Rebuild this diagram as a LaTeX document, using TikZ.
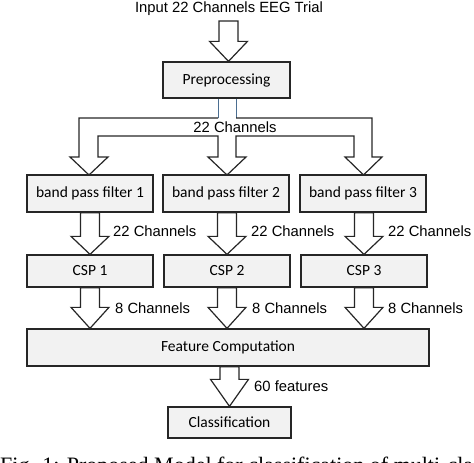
\documentclass[tikz,border=0pt]{standalone}
\usepackage{fontspec}
\setmainfont{Carlito}
\newfontfamily\arialf{Liberation Sans}
\newfontfamily\timesf{Liberation Serif}
\usetikzlibrary{calc}
\definecolor{feedblue}{RGB}{75,110,145}
\tikzset{
  boxst/.style={draw=black!85, fill=black!5, line width=1.3pt, inner sep=0pt,
    font=\fontsize{15.5}{18}\selectfont},
  lbl/.style={font=\arialf\fontsize{14.8}{18}\selectfont, inner sep=0pt, anchor=west},
  arrowline/.style={draw=black!85, line width=1.2pt, fill=white, line join=miter},
  feedline/.style={draw=black!85, line width=1.2pt, line join=miter},
  blueline/.style={draw=feedblue, line width=0.9pt}
}
\newcommand\hollowarrow[3]{%
  \path[arrowline] let \p1=(#1), \p2=(#2) in
    (\x2-9.5pt,\y1) -- (\x2-9.5pt,\y2+#3) -- (\x2-19pt,\y2+#3) -- (\x2,\y2)
    -- (\x2+19pt,\y2+#3) -- (\x2+9.5pt,\y2+#3) -- (\x2+9.5pt,\y1) -- cycle;
}
\begin{document}
\begin{tikzpicture}[x=1pt,y=-1pt]
\useasboundingbox (0,0) rectangle (474,463);
\clip (0,0) rectangle (474,463);

% title
\node[font=\arialf\fontsize{14.8}{18}\selectfont, inner sep=0pt, anchor=base] (title) at (229,12.5) {Input 22 Channels EEG Trial};
\coordinate (in) at (228.5,21);

% boxes
\node[boxst, minimum width=127pt, minimum height=36pt] (pre) at (226.5,80) {Preprocessing};
\node[boxst, minimum width=126pt, minimum height=37pt] (bp1) at (90,193.5) {band pass filter 1};
\node[boxst, minimum width=126pt, minimum height=37pt] (bp2) at (226,193.5) {band pass filter 2};
\node[boxst, minimum width=126pt, minimum height=37pt] (bp3) at (363,193.5) {band pass filter 3};
\node[boxst, minimum width=126pt, minimum height=32pt] (csp1) at (90,271) {CSP 1};
\node[boxst, minimum width=126pt, minimum height=32pt] (csp2) at (227,271) {CSP 2};
\node[boxst, minimum width=126pt, minimum height=32pt] (csp3) at (364,271) {CSP 3};
\node[boxst, minimum width=402pt, minimum height=37pt] (feat) at (228,347.5) {Feature Computation};
\node[boxst, minimum width=123pt, minimum height=31pt] (cls) at (229.5,422.5) {Classification};

% top arrow
\hollowarrow{in}{in |- pre.north}{20pt}

% branching arrow from preprocessing
\coordinate (bL) at (218,118);
\coordinate (bR) at (236,118);
\draw[blueline] (bL |- pre.south) -- (bL);
\draw[blueline] (bR |- pre.south) -- (bR);
\draw[feedline] (bL) -- (79,118) -- (79,157) -- (70,157) -- (89,175) -- (108,157) -- (98,157)
  -- (98,136) -- (218,136) -- (218,157) -- (208,157) -- (227,175) -- (246,157) -- (236,157)
  -- (236,136) -- (354,136) -- (354,157) -- (345,157) -- (363.5,175) -- (382,157) -- (372,157)
  -- (372,118) -- (bR);
\node[font=\arialf\fontsize{14.8}{18}\selectfont, inner sep=0pt] (lb0) at (235,127.5) {22 Channels};

% band pass -> CSP
\hollowarrow{csp1.north |- bp1.south}{csp1.north}{18pt}
\hollowarrow{csp2.north |- bp2.south}{csp2.north}{18pt}
\hollowarrow{csp3.north |- bp3.south}{csp3.north}{18pt}
\node[lbl] (lb1) at (113,231.5) {22 Channels};
\node[lbl] (lb2) at (251,231.5) {22 Channels};
\node[lbl] (lb3) at (388,231.5) {22 Channels};

% CSP -> feature
\hollowarrow{csp1.south}{csp1.south |- feat.north}{21pt}
\hollowarrow{csp2.south}{csp2.south |- feat.north}{21pt}
\hollowarrow{csp3.south}{csp3.south |- feat.north}{21pt}
\node[lbl] (lc1) at (115,308) {8 Channels};
\node[lbl] (lc2) at (252,308) {8 Channels};
\node[lbl] (lc3) at (388,308) {8 Channels};

% feature -> classification
\hollowarrow{cls.north |- feat.south}{cls.north}{27pt}
\node[lbl] (lf) at (254,386) {60 features};

% caption (cut off at the lower edge, as in the reference)
\node[anchor=base west, font=\timesf\fontsize{22}{26}\selectfont, inner sep=0pt] (cap) at (0,472)
  {Fig. 1: Proposed Model for classification of multi-class};
\end{tikzpicture}
\end{document}
